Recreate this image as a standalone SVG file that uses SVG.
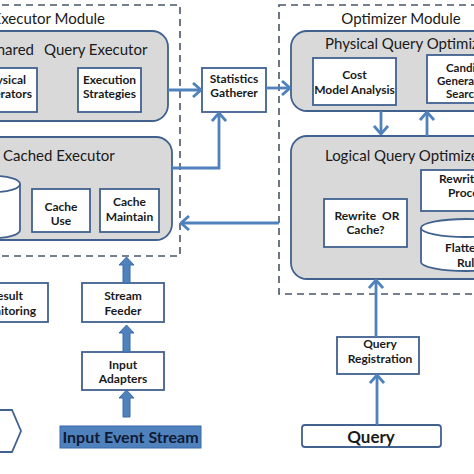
<svg xmlns="http://www.w3.org/2000/svg" width="474" height="474" viewBox="0 0 474 474">
<defs>
<style>
.dash{fill:none;stroke:#4a5568;stroke-width:1.6;stroke-dasharray:7,5}
.grp{fill:#d9d9d9;stroke:#41618f;stroke-width:1.8}
.box{fill:#fff;stroke:#41618f;stroke-width:1.8}
.t{font-family:Lato,"Liberation Sans",sans-serif;fill:#1a1a1a}
.h{font-size:15px}
.b{font-size:12px;font-weight:bold}
.ln{fill:none;stroke:#4f81bd;stroke-width:2.8}
.blk{fill:#4f81bd;stroke:#3a6aa8;stroke-width:1}
</style>
<marker id="ah" markerUnits="userSpaceOnUse" viewBox="0 0 10 16" refX="9" refY="8" markerWidth="10" markerHeight="16" orient="auto">
<path d="M1,1 L9,8 L1,15" fill="none" stroke="#4f81bd" stroke-width="2.8"/>
</marker>
</defs>

<g id="executor-module">
<rect class="dash" x="-10" y="5" width="190" height="251"/>
<text class="t h" x="105" y="24" text-anchor="end">Executor Module</text>
</g>

<g id="shared-query-executor">
<rect class="grp" x="-30" y="31" width="198" height="90" rx="16"/>
<text class="t h" y="55"><tspan x="34" text-anchor="end">Shared</tspan><tspan x="44">Query Executor</tspan></text>
</g>

<g id="physical-operators">
<rect class="box" x="-30" y="68" width="67" height="44"/>
<text class="t b" text-anchor="end"><tspan x="26" y="84">Physical</tspan><tspan x="32" y="98">Operators</tspan></text>
</g>

<g id="execution-strategies">
<rect class="box" x="78" y="68" width="63" height="44"/>
<text class="t b" text-anchor="middle"><tspan x="109.5" y="84">Execution</tspan><tspan x="109.5" y="98">Strategies</tspan></text>
</g>

<g id="cached-executor">
<rect class="grp" x="-30" y="137" width="202" height="103" rx="16"/>
<text class="t h" x="3" y="161">Cached Executor</text>
</g>

<g id="cache-store">
<path class="box" d="M-30,184 L-30,230 A25,8 0 0 0 20,230 L20,184"/>
<ellipse class="box" cx="-5" cy="184" rx="25" ry="8"/>
</g>

<g id="cache-use">
<rect class="box" x="32" y="189" width="58" height="43"/>
<text class="t b" text-anchor="middle"><tspan x="61" y="211">Cache</tspan><tspan x="61" y="225">Use</tspan></text>
</g>

<g id="cache-maintain">
<rect class="box" x="100" y="189" width="59" height="43"/>
<text class="t b" text-anchor="middle"><tspan x="129.5" y="206">Cache</tspan><tspan x="129.5" y="221">Maintain</tspan></text>
</g>

<g id="statistics-gatherer">
<rect class="box" x="202" y="68" width="64" height="44"/>
<text class="t b" text-anchor="middle"><tspan x="234" y="83">Statistics</tspan><tspan x="234" y="97">Gatherer</tspan></text>
</g>

<g id="optimizer-module">
<rect class="dash" x="279" y="5" width="210" height="289"/>
<text class="t h" x="401" y="24" text-anchor="middle">Optimizer Module</text>
</g>

<g id="physical-query-optimizer">
<rect class="grp" x="291" y="31" width="210" height="80" rx="16"/>
<text class="t h" x="325" y="49">Physical Query Optimizer</text>
</g>

<g id="cost-model-analysis">
<rect class="box" x="313" y="58" width="83" height="47"/>
<text class="t b" text-anchor="middle"><tspan x="354.5" y="79">Cost</tspan><tspan x="354.5" y="94">Model Analysis</tspan></text>
</g>

<g id="candidate-generation">
<rect class="box" x="427" y="55" width="70" height="48"/>
<text class="t b" font-size="11.5" style="font-size:11.5px"><tspan x="446" y="72">Candidate</tspan><tspan x="437" y="85">Generation</tspan><tspan x="446" y="98">Search</tspan></text>
</g>

<g id="logical-query-optimizer">
<rect class="grp" x="291" y="136" width="210" height="143" rx="16"/>
<text class="t h" x="325" y="161">Logical Query Optimizer</text>
</g>

<g id="rewrite-or-cache">
<rect class="box" x="324" y="199" width="83" height="48"/>
<text class="t b" text-anchor="middle"><tspan x="367" y="220">Rewrite<tspan dx="6">OR</tspan></tspan><tspan x="365.5" y="234">Cache?</tspan></text>
</g>

<g id="rewrite-process">
<rect class="box" x="421" y="170" width="70" height="41"/>
<text class="t b"><tspan x="439" y="183">Rewrite</tspan><tspan x="448" y="197">Process</tspan></text>
</g>

<g id="flatten-rules">
<path class="box" d="M421,228 L421,262 A45,9 0 0 0 511,262 L511,228"/>
<ellipse class="box" cx="466" cy="228" rx="45" ry="9"/>
<text class="t b"><tspan x="445" y="252">Flatten</tspan><tspan x="457" y="267">Rules</tspan></text>
</g>

<g id="result-monitoring">
<rect class="box" x="-30" y="283" width="78" height="39"/>
<text class="t b" text-anchor="end"><tspan x="23" y="300">Result</tspan><tspan x="36" y="315">Monitoring</tspan></text>
</g>

<g id="stream-feeder">
<rect class="box" x="82" y="283" width="82" height="39"/>
<text class="t b" text-anchor="middle"><tspan x="123" y="300">Stream</tspan><tspan x="123" y="315">Feeder</tspan></text>
</g>

<g id="input-adapters">
<rect class="box" x="82" y="352" width="82" height="38"/>
<text class="t b" text-anchor="middle"><tspan x="123" y="369">Input</tspan><tspan x="123" y="383">Adapters</tspan></text>
</g>

<g id="input-event-stream">
<rect x="60" y="426" width="141" height="22" fill="#4f81bd" stroke="#3a6aa8" stroke-width="1"/>
<text class="t" x="130.5" y="443" text-anchor="middle" font-size="16" font-weight="bold" style="fill:#0f1a33">Input Event Stream</text>
</g>

<g id="query-registration">
<rect class="box" x="337" y="337" width="82" height="37"/>
<text class="t b" text-anchor="middle"><tspan x="380" y="348">Query</tspan><tspan x="380" y="363">Registration</tspan></text>
</g>

<g id="query">
<rect class="box" x="302" y="425" width="139" height="22" rx="3"/>
<text class="t" x="371" y="443" text-anchor="middle" font-size="17" font-weight="bold">Query</text>
</g>

<g id="output-hexagon">
<path class="box" d="M-20,410 L12,410 L21,431 L12,452 L-20,452 Z"/>
</g>

<g id="connectors">
<path class="ln" d="M168,90 L201,90" marker-end="url(#ah)"/>
<path class="ln" d="M266,88 L290,88" marker-end="url(#ah)"/>
<path class="ln" d="M172,168 L219,168 L219,113" marker-end="url(#ah)"/>
<path class="ln" d="M279,223 L181,223" marker-end="url(#ah)"/>
<path class="ln" d="M381,111 L381,134" marker-end="url(#ah)"/>
<path class="ln" d="M427,136 L427,112" marker-end="url(#ah)"/>
<path class="ln" d="M376,337 L376,280" marker-end="url(#ah)"/>
<path class="ln" d="M377,425 L377,375" marker-end="url(#ah)"/>
<polygon class="blk" points="123,417 123,398 119,398 126.5,390 134,398 130,398 130,417"/>
<polygon class="blk" points="123,352 123,333 119,333 126.5,325 134,333 130,333 130,352"/>
<polygon class="blk" points="123,283 123,265 119,265 126.5,257 134,265 130,265 130,283"/>
</g>
</svg>
